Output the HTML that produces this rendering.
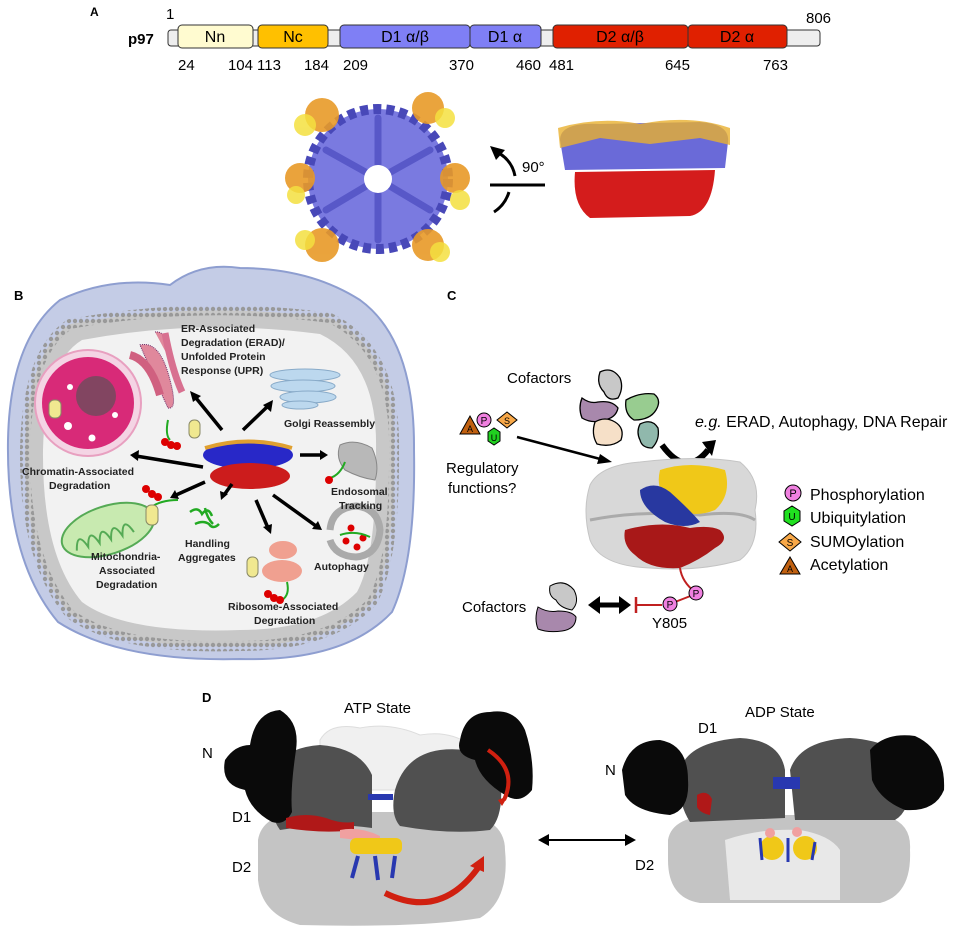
<!DOCTYPE html>
<html><head><meta charset="utf-8"><style>
html,body{margin:0;padding:0;background:#fff}
svg{display:block}
text{font-family:"Liberation Sans",Arial,sans-serif}
</style></head><body>
<svg width="964" height="931" viewBox="0 0 964 931" xmlns="http://www.w3.org/2000/svg">
<defs>
<pattern id="dots" width="6" height="6" patternUnits="userSpaceOnUse"><circle cx="3" cy="3" r="2.2" fill="#999"/></pattern>
</defs>
<!-- Panel A -->
<text x="90" y="16" font-size="12" font-weight="bold">A</text>
<text x="166" y="19" font-size="15">1</text>
<text x="806" y="23" font-size="15">806</text>
<text x="128" y="44" font-size="15" font-weight="bold">p97</text>
<rect x="168" y="30" width="652" height="16" rx="3" fill="#eee" stroke="#333"/>
<rect x="178" y="25" width="75" height="23" rx="4" fill="#fffbd0" stroke="#333"/>
<text x="215" y="42" font-size="16" text-anchor="middle">Nn</text>
<rect x="258" y="25" width="70" height="23" rx="4" fill="#ffc000" stroke="#333"/>
<text x="293" y="42" font-size="16" text-anchor="middle">Nc</text>
<rect x="340" y="25" width="130" height="23" rx="4" fill="#7f7ff5" stroke="#333"/>
<text x="405" y="42" font-size="16" text-anchor="middle">D1 α/β</text>
<rect x="470" y="25" width="71" height="23" rx="4" fill="#7f7ff5" stroke="#333"/>
<text x="505" y="42" font-size="16" text-anchor="middle">D1 α</text>
<rect x="553" y="25" width="135" height="23" rx="4" fill="#e02000" stroke="#333"/>
<text x="620" y="42" font-size="16" text-anchor="middle">D2 α/β</text>
<rect x="688" y="25" width="99" height="23" rx="4" fill="#e02000" stroke="#333"/>
<text x="737" y="42" font-size="16" text-anchor="middle">D2 α</text>
<g font-size="15">
<text x="178" y="70">24</text><text x="253" y="70" text-anchor="end">104</text><text x="257" y="70">113</text><text x="329" y="70" text-anchor="end">184</text>
<text x="343" y="70">209</text><text x="474" y="70" text-anchor="end">370</text><text x="541" y="70" text-anchor="end">460</text><text x="549" y="70">481</text>
<text x="690" y="70" text-anchor="end">645</text><text x="788" y="70" text-anchor="end">763</text></g>
<!-- top view hexamer -->
<g>
<circle cx="378" cy="179" r="70" fill="#7a7ae0" stroke="#4848b8" stroke-width="10" stroke-dasharray="8 5"/>
<g stroke="#5858c8" stroke-width="7" stroke-linecap="round">
<line x1="378" y1="179" x2="378" y2="118"/><line x1="378" y1="179" x2="430" y2="150"/><line x1="378" y1="179" x2="430" y2="210"/>
<line x1="378" y1="179" x2="378" y2="240"/><line x1="378" y1="179" x2="326" y2="210"/><line x1="378" y1="179" x2="326" y2="150"/></g>
<circle cx="378" cy="179" r="14" fill="#fff"/>
<g fill="#e89a28" opacity="0.9"><circle cx="322" cy="115" r="17"/><circle cx="428" cy="108" r="16"/><circle cx="455" cy="178" r="15"/><circle cx="428" cy="245" r="16"/><circle cx="322" cy="245" r="17"/><circle cx="300" cy="178" r="15"/></g>
<g fill="#f4e040" opacity="0.85"><circle cx="305" cy="125" r="11"/><circle cx="445" cy="118" r="10"/><circle cx="460" cy="200" r="10"/><circle cx="440" cy="252" r="10"/><circle cx="305" cy="240" r="10"/><circle cx="296" cy="195" r="9"/></g>
</g>
<path d="M515 176 Q512 160 497 152" stroke="#000" stroke-width="3" fill="none"/>
<path d="M490 146 L505 150 L496 160 Z" fill="#000"/>
<line x1="490" y1="185" x2="545" y2="185" stroke="#000" stroke-width="3"/>
<path d="M509 192 Q505 205 494 212" stroke="#000" stroke-width="3" fill="none"/>
<text x="522" y="172" font-size="15">90°</text>
<!-- side view -->
<path d="M560 140 Q560 122 600 124 L700 122 Q730 124 728 142 L725 168 L565 170 Z" fill="#6a6ad8"/>
<path d="M558 128 Q600 116 640 124 Q690 114 730 128 L730 145 L700 138 L650 144 L600 138 L560 148 Z" fill="#e8b030" opacity="0.8"/>
<path d="M575 172 L715 170 Q712 212 690 216 L590 218 Q572 205 575 172 Z" fill="#d41c1c"/>
<!-- Panel B -->
<text x="14" y="300" font-size="13" font-weight="bold">B</text>
<path d="M60 300 Q110 276 170 285 Q200 262 240 268 Q310 268 360 300 Q415 340 414 450 Q416 560 392 612 Q345 662 240 659 Q120 662 58 622 Q6 560 8 440 Q10 340 60 300 Z" fill="#c4cce6" stroke="#8e9ed0" stroke-width="2"/>
<path d="M70 324 Q200 300 330 318 Q396 350 394 450 Q395 560 372 602 Q330 646 240 646 Q120 650 70 614 Q24 560 25 450 Q27 352 70 324 Z" fill="#c8c8c8"/>
<path d="M70 324 Q200 300 330 318 Q396 350 394 450 Q395 560 372 602 Q330 646 240 646 Q120 650 70 614 Q24 560 25 450 Q27 352 70 324 Z" fill="none" stroke="url(#dots)" stroke-width="10"/>
<path d="M82 340 Q200 318 320 334 Q378 362 376 450 Q377 555 357 592 Q320 630 240 630 Q125 634 82 602 Q42 555 43 450 Q45 362 82 340 Z" fill="#f2f2f2"/>
<!-- nucleus -->
<circle cx="88" cy="403" r="53" fill="#f4d4e4" stroke="#e8a0c0" stroke-width="2"/>
<circle cx="88" cy="403" r="46" fill="#d82a78"/>
<circle cx="96" cy="396" r="20" fill="#555" opacity="0.65"/>
<g fill="#fff"><circle cx="68" cy="426" r="4"/><circle cx="92" cy="438" r="3.5"/><circle cx="115" cy="415" r="3"/><circle cx="70" cy="387" r="3"/></g>
<rect x="49" y="400" width="12" height="18" rx="5" fill="#f0e890" stroke="#886"/>
<!-- ER -->
<path d="M140 345 Q160 340 170 380 Q178 410 168 408 Q155 380 140 345 Z M155 332 Q168 330 170 360" fill="#e0889c" stroke="#70306a" stroke-width="1" stroke-dasharray="1 1"/>
<path d="M130 355 Q150 360 160 395" stroke="#d06080" stroke-width="8" fill="none"/>
<path d="M165 333 Q172 370 182 392" stroke="#d87090" stroke-width="7" fill="none"/>
<path d="M168 420 Q165 435 170 440" stroke="#2a2" stroke-width="2" fill="none"/>
<g fill="#d00"><circle cx="165" cy="442" r="4"/><circle cx="171" cy="445" r="4"/><circle cx="177" cy="446" r="4"/></g>
<rect x="189" y="420" width="11" height="18" rx="5" fill="#f0e890" stroke="#886"/>
<!-- Golgi -->
<g fill="#bcd8ee" stroke="#88aac8"><ellipse cx="305" cy="375" rx="35" ry="6"/><ellipse cx="303" cy="386" rx="32" ry="6"/><ellipse cx="308" cy="397" rx="28" ry="6"/><ellipse cx="300" cy="405" rx="18" ry="4"/></g>
<!-- hexamer -->
<ellipse cx="248" cy="455" rx="45" ry="14" fill="#2828c8"/>
<path d="M205 448 Q248 435 292 448" stroke="#e0a030" stroke-width="4" fill="none"/>
<ellipse cx="250" cy="476" rx="40" ry="13" fill="#cc1c1c"/>
<!-- arrows -->
<g stroke="#000" stroke-width="3.5">
<line x1="222" y1="430" x2="196" y2="398"/><line x1="243" y1="430" x2="268" y2="406"/><line x1="203" y1="467" x2="136" y2="456"/>
<line x1="300" y1="455" x2="322" y2="455"/><line x1="205" y1="482" x2="176" y2="495"/><line x1="232" y1="484" x2="224" y2="495"/>
<line x1="256" y1="500" x2="268" y2="528"/><line x1="273" y1="495" x2="316" y2="526"/></g>
<g fill="#000">
<path d="M190 391 L201 396 L193 402Z"/><path d="M273 400 L271 412 L263 405Z"/><path d="M130 455 L139 450 L138 461Z"/>
<path d="M328 455 L320 450 L320 460Z"/><path d="M170 498 L175 490 L179 499Z"/><path d="M221 500 L220 491 L228 494Z"/>
<path d="M271 534 L263 527 L272 524Z"/><path d="M322 530 L312 529 L318 521Z"/></g>
<!-- endosome -->
<path d="M340 445 Q355 438 372 448 Q380 465 375 480 Q360 478 345 470 Q335 458 340 445Z" fill="#b8b8b8" stroke="#888"/>
<path d="M345 462 Q340 475 330 478" stroke="#2a2" stroke-width="2" fill="none"/><circle cx="329" cy="480" r="4" fill="#d00"/>
<!-- autophagy -->
<path d="M330 530 Q332 508 356 506 Q378 508 380 530 Q378 555 356 557 Q335 556 330 540" fill="none" stroke="#aaa" stroke-width="7"/>
<g fill="#d00"><circle cx="351" cy="528" r="3.5"/><circle cx="363" cy="538" r="3.5"/><circle cx="346" cy="541" r="3.5"/><circle cx="357" cy="547" r="3.5"/></g>
<path d="M340 535 Q355 530 370 537" stroke="#2a2" stroke-width="2" fill="none"/>
<!-- mito -->
<ellipse cx="108" cy="530" rx="48" ry="24" transform="rotate(-18 108 530)" fill="#c8eab0" stroke="#5a5" stroke-width="2"/>
<path d="M72 540 q6 -20 12 0 q6 -20 12 0 q6 -20 12 0 q6 -20 12 0 q6 -20 12 0" stroke="#5a5" stroke-width="2" fill="none" transform="rotate(-18 108 530)"/>
<path d="M150 508 Q160 500 178 500" stroke="#2a2" stroke-width="2" fill="none"/>
<g fill="#d00"><circle cx="146" cy="489" r="4"/><circle cx="152" cy="494" r="4"/><circle cx="158" cy="497" r="4"/></g>
<rect x="146" y="505" width="12" height="20" rx="5" fill="#f0e890" stroke="#886"/>
<!-- aggregates -->
<path d="M190 512 q8 -6 12 2 q6 -8 10 2 M195 524 q8 -4 14 0 q4 6 10 0 M205 508 q2 10 8 16" stroke="#2a2" stroke-width="2.5" fill="none"/>
<!-- ribosome -->
<ellipse cx="283" cy="550" rx="14" ry="9" fill="#f0a090"/><ellipse cx="282" cy="571" rx="20" ry="11" fill="#f0a090"/>
<path d="M287 582 Q290 595 282 600" stroke="#2a2" stroke-width="2" fill="none"/>
<g fill="#d00"><circle cx="268" cy="594" r="4"/><circle cx="274" cy="598" r="4"/><circle cx="280" cy="600" r="4"/></g>
<rect x="247" y="557" width="11" height="20" rx="5" fill="#f0e890" stroke="#886"/>
<g font-size="10.5" font-weight="bold" fill="#222">
<text x="181" y="332">ER-Associated</text><text x="181" y="346">Degradation (ERAD)/</text><text x="181" y="360">Unfolded Protein</text><text x="181" y="374">Response (UPR)</text>
<text x="284" y="427">Golgi Reassembly</text>
<text x="22" y="475">Chromatin-Associated</text><text x="49" y="489">Degradation</text>
<text x="331" y="495">Endosomal</text><text x="339" y="509">Tracking</text>
<text x="185" y="547">Handling</text><text x="178" y="561">Aggregates</text>
<text x="91" y="560">Mitochondria-</text><text x="99" y="574">Associated</text><text x="96" y="588">Degradation</text>
<text x="314" y="570">Autophagy</text>
<text x="228" y="610">Ribosome-Associated</text><text x="254" y="624">Degradation</text>
</g>
<!-- Panel C -->
<text x="447" y="300" font-size="13" font-weight="bold">C</text>
<text x="507" y="383" font-size="15">Cofactors</text>
<g stroke="#000" stroke-width="1.3">
<path d="M600 372 q12 -6 20 6 q4 10 -2 20 q-10 4 -14 -6 q-8 -8 -4 -20z" fill="#c8c8c8"/>
<path d="M582 398 q8 6 16 4 q14 -2 20 6 q-2 10 -14 12 q-12 4 -22 -2 q-4 -10 0 -20z" fill="#a888ac"/>
<path d="M626 400 q14 -8 28 -6 q8 6 2 16 q-6 10 -22 10 q-10 -6 -8 -20z" fill="#98cc90"/>
<path d="M595 422 q10 -6 20 0 q10 6 6 18 q-10 8 -24 4 q-6 -10 -2 -22z" fill="#f6e0c8"/>
<path d="M640 424 q12 -6 18 4 q2 12 -6 20 q-10 0 -12 -8 q-4 -8 0 -16z" fill="#90b8ac"/>
</g>
<text x="695" y="427" font-size="16"><tspan font-style="italic">e.g.</tspan> ERAD, Autophagy, DNA Repair</text>
<path d="M662 445 Q686 478 708 450" stroke="#000" stroke-width="6" fill="none"/>
<path d="M702 442 L716 440 L712 456Z" fill="#000"/>
<path d="M460 434 l10 -18 l10 18z" fill="#c06010" stroke="#000"/><text x="470" y="432" font-size="9" text-anchor="middle">A</text>
<circle cx="484" cy="420" r="7" fill="#f080e0" stroke="#000"/><text x="484" y="424" font-size="10" text-anchor="middle">P</text>
<path d="M507 412 l10 8 l-10 8 l-10 -8z" fill="#f8a848" stroke="#000"/><text x="507" y="424" font-size="9" text-anchor="middle">S</text>
<path d="M488 432 l6 -4 l6 4 v9 l-6 4 l-6 -4z" fill="#20d020" stroke="#000"/><text x="494" y="441" font-size="9" text-anchor="middle">U</text>
<line x1="517" y1="437" x2="604" y2="460" stroke="#000" stroke-width="2.5"/><path d="M612 462 l-12 -8 l-3 10z" fill="#000"/>
<text x="446" y="473" font-size="15">Regulatory</text><text x="448" y="493" font-size="15">functions?</text>
<path d="M590 485 Q600 465 640 462 Q700 455 740 462 Q762 480 755 510 Q760 545 740 560 Q700 572 650 568 Q600 566 590 540 Q582 510 590 485Z" fill="#d8d8d8" stroke="#c4c4c4"/>
<path d="M590 520 Q640 510 700 515 Q740 510 755 520" stroke="#aaa" stroke-width="3" fill="none"/>
<path d="M660 470 Q690 460 725 470 Q732 495 715 510 Q690 520 670 505 Q655 490 660 470Z" fill="#f0c818"/>
<path d="M640 490 Q655 480 670 492 Q690 510 700 522 Q685 530 665 522 Q640 508 640 490Z" fill="#2838a0"/>
<path d="M625 530 Q660 520 690 528 Q710 525 720 530 Q730 540 715 548 Q700 560 680 568 Q650 570 635 555 Q622 545 625 530Z" fill="#a81818"/>
<path d="M680 568 Q682 582 695 592" stroke="#c02020" stroke-width="2" fill="none"/>
<line x1="675" y1="602" x2="693" y2="595" stroke="#c02020" stroke-width="2"/>
<circle cx="696" cy="593" r="7" fill="#f080e0" stroke="#000"/><text x="696" y="597" font-size="10" text-anchor="middle">P</text>
<circle cx="670" cy="604" r="7" fill="#f080e0" stroke="#000"/><text x="670" y="608" font-size="10" text-anchor="middle">P</text>
<text x="652" y="628" font-size="15">Y805</text>
<line x1="636" y1="605" x2="662" y2="605" stroke="#c02020" stroke-width="2"/><line x1="636" y1="597" x2="636" y2="613" stroke="#c02020" stroke-width="2.5"/>
<path d="M596 605 h28" stroke="#000" stroke-width="5"/><path d="M588 605 l12 -9 v18z M631 605 l-12 -9 v18z" fill="#000"/>
<text x="462" y="612" font-size="15">Cofactors</text>
<path d="M550 586 q14 -8 24 4 q6 12 -2 20 q-12 -2 -16 -10 q-8 -4 -6 -14z" fill="#c8c8c8" stroke="#000"/>
<path d="M538 607 q10 6 20 4 q14 0 18 6 q0 12 -14 14 q-14 2 -24 -2 q-4 -10 0 -22z" fill="#a888ac" stroke="#000"/>
<circle cx="793" cy="493" r="8" fill="#f080e0" stroke="#000"/><text x="793" y="497" font-size="11" text-anchor="middle">P</text><text x="810" y="500" font-size="16">Phosphorylation</text>
<path d="M784 511 l8 -5 l8 5 v10 l-8 5 l-8 -5z" fill="#20e020" stroke="#000"/><text x="792" y="520" font-size="10" text-anchor="middle">U</text><text x="810" y="523" font-size="16">Ubiquitylation</text>
<path d="M790 533 l11 9 l-11 9 l-11 -9z" fill="#f8a848" stroke="#000"/><text x="790" y="546" font-size="10" text-anchor="middle">S</text><text x="810" y="547" font-size="16">SUMOylation</text>
<path d="M780 574 l10 -17 l10 17z" fill="#c06010" stroke="#000"/><text x="790" y="572" font-size="9" text-anchor="middle">A</text><text x="810" y="570" font-size="16">Acetylation</text>
<!-- Panel D -->
<text x="202" y="702" font-size="13" font-weight="bold">D</text>
<text x="344" y="713" font-size="15">ATP State</text>
<text x="745" y="717" font-size="15">ADP State</text>
<text x="202" y="758" font-size="15">N</text><text x="232" y="822" font-size="15">D1</text><text x="232" y="872" font-size="15">D2</text>
<text x="698" y="733" font-size="15">D1</text><text x="605" y="775" font-size="15">N</text><text x="635" y="870" font-size="15">D2</text>
<!-- ATP -->
<path d="M320 740 Q330 722 360 728 Q390 722 420 735 Q450 730 470 745 L470 790 L320 790Z" fill="#f0f0f0" stroke="#ddd"/>
<path d="M258 840 Q262 815 300 812 L450 812 Q505 815 505 850 Q510 900 480 918 Q420 928 300 925 Q262 915 258 880Z" fill="#c4c4c4"/>
<path d="M270 775 Q280 748 320 745 Q360 748 372 775 L372 828 Q330 822 280 830 Q266 810 270 775Z" fill="#505050"/>
<path d="M395 790 Q405 755 440 750 Q485 745 500 775 Q505 815 490 830 Q450 835 400 826 Q390 815 395 790Z" fill="#505050"/>
<path d="M225 760 Q235 745 250 745 Q255 712 280 710 Q300 722 296 750 Q290 790 292 812 Q285 826 272 822 Q250 810 245 790 Q220 785 225 760Z" fill="#0a0a0a"/>
<path d="M460 740 Q465 712 490 712 Q515 708 525 730 Q535 760 532 790 Q520 805 505 795 Q480 780 475 760 Q455 755 460 740Z" fill="#0a0a0a"/>
<path d="M368 794 h25 v6 h-25z" fill="#2838b0"/>
<path d="M286 818 q20 -6 40 0 q15 6 28 4 v8 q-30 4 -68 -2z" fill="#b01818"/>
<path d="M340 830 q20 -4 40 6 v8 q-20 -4 -40 -6z" fill="#f0a0a0"/>
<rect x="350" y="838" width="52" height="16" rx="6" fill="#f0c818"/>
<g stroke="#2838b0" stroke-width="4"><line x1="358" y1="856" x2="352" y2="878"/><line x1="375" y1="856" x2="378" y2="880"/><line x1="395" y1="856" x2="392" y2="878"/></g>
<path d="M488 750 Q518 770 504 800" stroke="#d02010" stroke-width="4" fill="none"/><path d="M498 800 l10 -4 l-6 10z" fill="#d02010"/>
<path d="M385 893 Q440 920 478 868" stroke="#d02010" stroke-width="6" fill="none"/><path d="M470 866 l14 -10 l0 16z" fill="#d02010"/>
<!-- double arrow -->
<line x1="545" y1="840" x2="628" y2="840" stroke="#000" stroke-width="2"/><path d="M538 840 l11 -6 v12z M636 840 l-11 -6 v12z" fill="#000"/>
<!-- ADP -->
<path d="M668 840 Q672 815 720 815 L880 815 Q912 820 910 850 Q912 895 880 903 L700 903 Q668 898 668 860Z" fill="#c4c4c4"/>
<path d="M725 840 Q760 828 800 830 Q830 835 840 850 L840 900 L730 900Z" fill="#e8e8e8"/>
<path d="M680 770 Q688 742 740 738 Q780 740 785 770 L785 818 L690 822 Q676 800 680 770Z" fill="#505050"/>
<path d="M790 770 Q800 740 850 738 Q905 742 910 775 Q912 810 895 820 L795 820Z" fill="#505050"/>
<path d="M622 770 Q630 740 660 740 Q688 745 688 780 Q690 810 670 815 Q635 812 625 795Z" fill="#0a0a0a"/>
<path d="M870 750 Q885 732 915 736 Q946 750 944 790 Q935 812 905 810 Q880 800 872 780Z" fill="#0a0a0a"/>
<rect x="773" y="777" width="27" height="12" fill="#2838b0"/>
<path d="M697 795 q10 -6 15 4 l-2 16 q-10 -2 -13 -8z" fill="#b01818"/>
<ellipse cx="772" cy="848" rx="12" ry="12" fill="#f0c818"/><ellipse cx="805" cy="848" rx="12" ry="12" fill="#f0c818"/>
<circle cx="770" cy="833" r="5" fill="#f0a0a0"/><circle cx="797" cy="832" r="5" fill="#f0a0a0"/>
<g stroke="#2838b0" stroke-width="3"><line x1="760" y1="838" x2="762" y2="860"/><line x1="788" y1="838" x2="788" y2="862"/><line x1="815" y1="842" x2="812" y2="860"/></g>
</svg>
</body></html>
